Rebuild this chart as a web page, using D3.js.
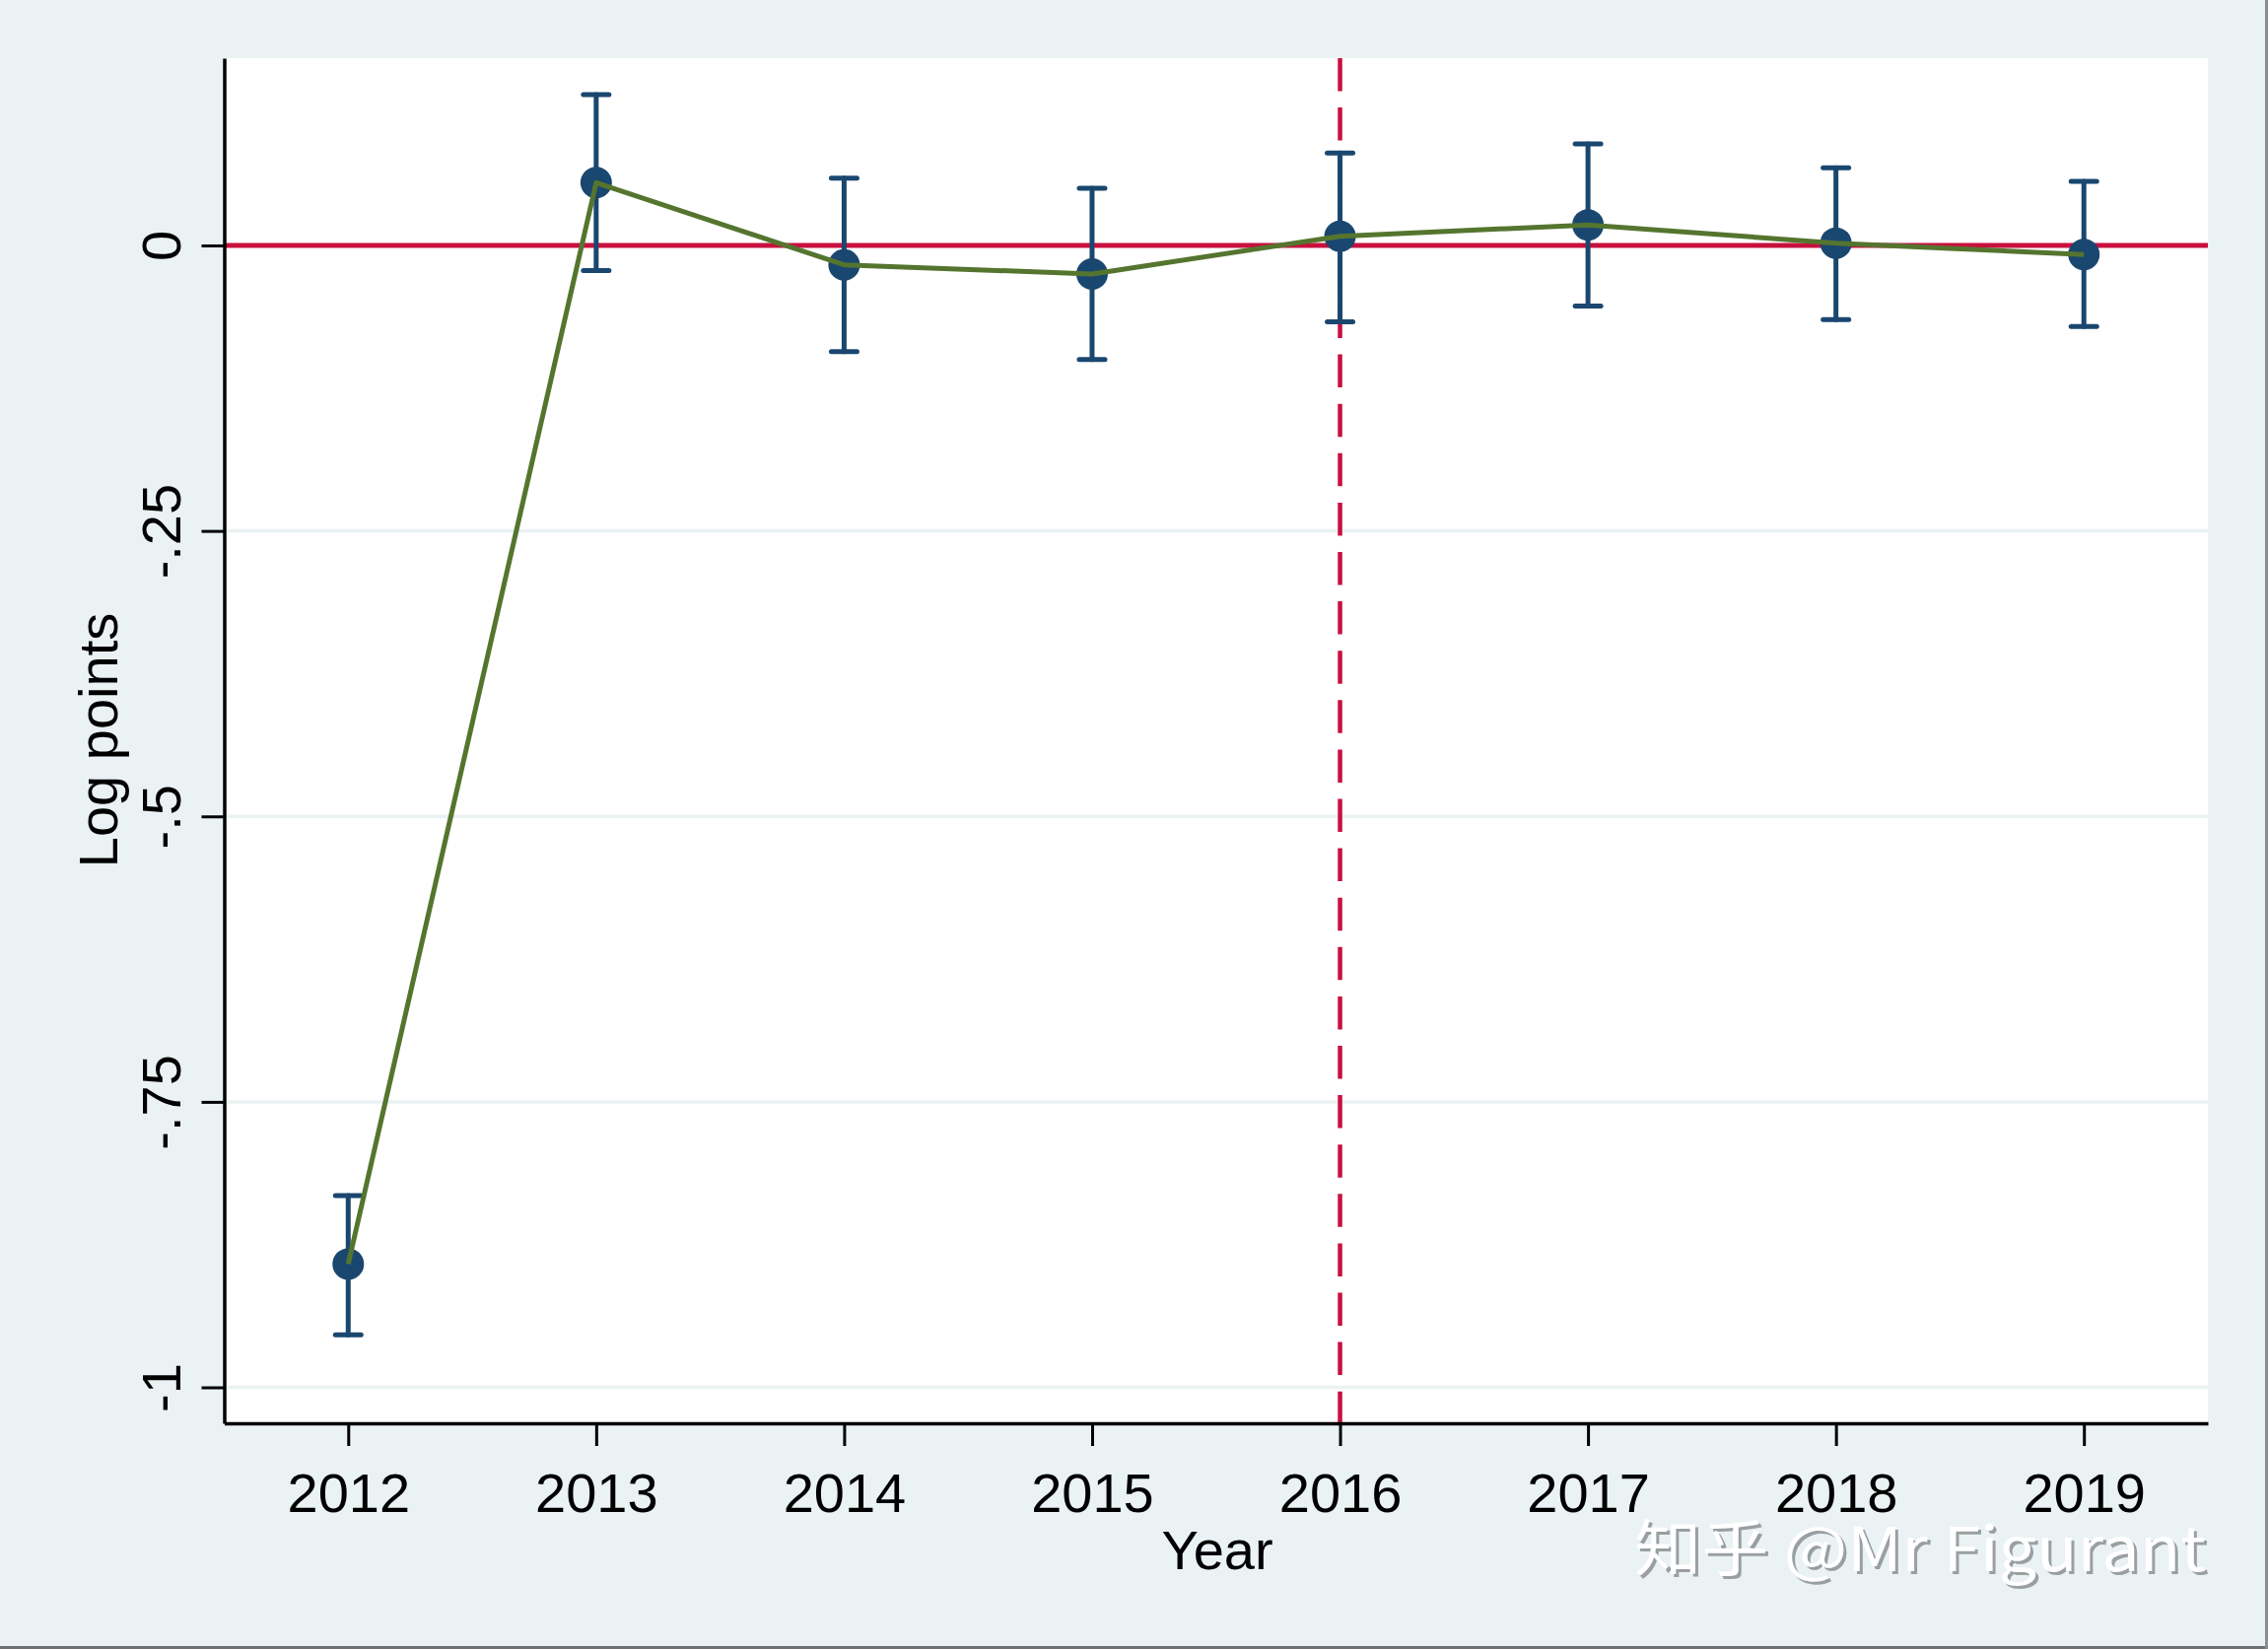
<!DOCTYPE html>
<html>
<head>
<meta charset="utf-8">
<script src="https://cdn.jsdelivr.net/npm/d3@7"></script>
<style>
  body { margin: 0; background: #eaf2f3; }
  svg { display: block; font-family: "Liberation Sans", Arial, sans-serif; }
</style>
</head>
<body>
<svg id="chart" width="2301" height="1673"></svg>
<script>
// event-study estimates
const years = [2012, 2013, 2014, 2015, 2016, 2017, 2018, 2019];
const coef  = [-0.892, 0.055, -0.017, -0.025, 0.008, 0.018, 0.002, -0.008];
const ciHi  = [-0.832, 0.132, 0.059, 0.050, 0.081, 0.089, 0.068, 0.056];
const ciLo  = [-0.954, -0.022, -0.093, -0.100, -0.067, -0.053, -0.065, -0.071];
const yTicks = [0, -0.25, -0.5, -0.75, -1];
const yTickLabels = ['0', '-.25', '-.5', '-.75', '-1'];
const treatYear = 2016;

const W = 2301, H = 1673;
const plot = { left: 227.5, right: 2240, top: 59, bottom: 1444 };

const navy = '#1a476f', green = '#55752f', red = '#c8103e', bg = '#eaf2f3';

const svg = d3.select('#chart');

// background + small frame shadow on right / bottom
svg.append('rect').attr('width', W).attr('height', H).attr('fill', bg);
svg.append('line').attr('x1', 0).attr('x2', W).attr('y1', H - 1.5).attr('y2', H - 1.5)
  .attr('stroke', '#6b6f70').attr('stroke-width', 3);
svg.append('line').attr('x1', W - 1.5).attr('x2', W - 1.5).attr('y1', 0).attr('y2', H)
  .attr('stroke', '#8a8e8f').attr('stroke-width', 3);

const x = d3.scaleLinear().domain([2011.5, 2019.5]).range([plot.left, plot.right]);
const y = d3.scaleLinear().domain([-1.0315, 0.164]).range([plot.bottom, plot.top]);

// plot region
svg.append('rect')
  .attr('x', plot.left).attr('y', plot.top)
  .attr('width', plot.right - plot.left).attr('height', plot.bottom - plot.top)
  .attr('fill', '#ffffff');

// gridlines
svg.selectAll('.grid').data(yTicks).enter().append('line')
  .attr('x1', plot.left).attr('x2', plot.right)
  .attr('y1', d => y(d)).attr('y2', d => y(d))
  .attr('stroke', bg).attr('stroke-width', 3.5);

// reference lines
svg.append('line')
  .attr('x1', plot.left).attr('x2', plot.right)
  .attr('y1', y(0)).attr('y2', y(0))
  .attr('stroke', red).attr('stroke-width', 5);

svg.append('line')
  .attr('x1', x(treatYear)).attr('x2', x(treatYear))
  .attr('y1', plot.top).attr('y2', plot.bottom)
  .attr('stroke', red).attr('stroke-width', 4.5)
  .attr('stroke-dasharray', '33.5,16.6');

const pts = years.map((yr, i) => ({ yr, b: coef[i], hi: ciHi[i], lo: ciLo[i] }));

// error bars
const eb = svg.append('g').attr('stroke', navy).attr('stroke-width', 5).attr('stroke-linecap', 'round');
eb.selectAll('.bar').data(pts).enter().append('line')
  .attr('x1', d => x(d.yr)).attr('x2', d => x(d.yr))
  .attr('y1', d => y(d.hi)).attr('y2', d => y(d.lo));
['hi', 'lo'].forEach(k => {
  eb.selectAll('.cap-' + k).data(pts).enter().append('line')
    .attr('x1', d => x(d.yr) - 13).attr('x2', d => x(d.yr) + 13)
    .attr('y1', d => y(d[k])).attr('y2', d => y(d[k]));
});

// markers
svg.selectAll('.pt').data(pts).enter().append('circle')
  .attr('cx', d => x(d.yr)).attr('cy', d => y(d.b))
  .attr('r', 16).attr('fill', navy);

// connecting line
svg.append('path')
  .datum(pts)
  .attr('fill', 'none')
  .attr('stroke', green)
  .attr('stroke-width', 5)
  .attr('stroke-linejoin', 'round')
  .attr('d', d3.line().x(d => x(d.yr)).y(d => y(d.b)));

// x axis
const xAxis = svg.append('g')
  .attr('transform', `translate(0,${plot.bottom})`)
  .call(d3.axisBottom(x).tickValues(years).tickFormat(d3.format('d')).tickSize(23).tickSizeOuter(0));
xAxis.select('.domain').attr('stroke', '#000').attr('stroke-width', 3.5);
xAxis.selectAll('.tick line').attr('stroke', '#000').attr('stroke-width', 3);
xAxis.selectAll('.tick text')
  .attr('y', 90).attr('dy', null)
  .attr('font-size', 56).attr('fill', '#000')
  .attr('font-family', '"Liberation Sans", Arial, sans-serif');

// y axis
const yAxis = svg.append('g')
  .attr('transform', `translate(${plot.left},0)`)
  .call(d3.axisLeft(y).tickValues(yTicks).tickFormat((d, i) => yTickLabels[i]).tickSize(23).tickSizeOuter(0));
yAxis.select('.domain').attr('stroke', '#000').attr('stroke-width', 3.5);
yAxis.selectAll('.tick line').attr('stroke', '#000').attr('stroke-width', 3);
yAxis.selectAll('.tick text')
  .attr('x', null).attr('dy', null)
  .attr('transform', 'translate(-44.5,0) rotate(-90)')
  .attr('text-anchor', 'middle')
  .attr('font-size', 56).attr('fill', '#000')
  .attr('font-family', '"Liberation Sans", Arial, sans-serif');

// axis titles
svg.append('text')
  .attr('x', 1235).attr('y', 1592)
  .attr('text-anchor', 'middle')
  .attr('font-size', 56)
  .text('Year');

svg.append('text')
  .attr('transform', 'translate(119,751) rotate(-90)')
  .attr('text-anchor', 'middle')
  .attr('font-size', 56)
  .text('Log points');

// watermark
const wm = '知乎 @Mr Figurant';
const wmFont = '"Noto Sans CJK SC", "Liberation Sans", sans-serif';
svg.append('text')
  .attr('x', 1661).attr('y', 1597)
  .attr('font-family', wmFont).attr('font-size', 62)
  .attr('textLength', 580).attr('lengthAdjust', 'spacingAndGlyphs')
  .attr('fill', '#9a9fa1')
  .text(wm);
svg.append('text')
  .attr('x', 1658).attr('y', 1594)
  .attr('font-family', wmFont).attr('font-size', 62)
  .attr('textLength', 580).attr('lengthAdjust', 'spacingAndGlyphs')
  .attr('fill', '#ffffff')
  .text(wm);
</script>
</body>
</html>
